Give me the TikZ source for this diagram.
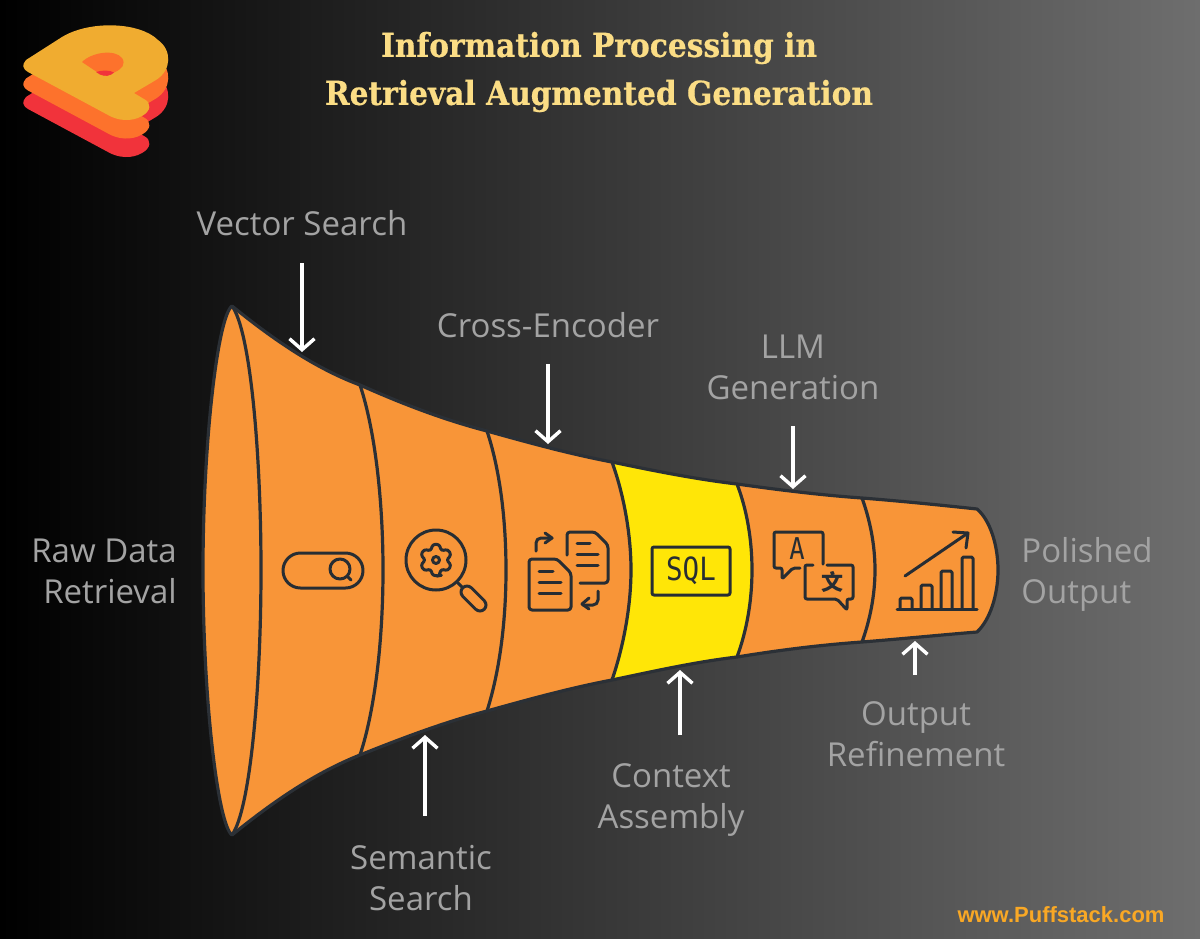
\documentclass[tikz,border=0pt]{standalone}
\usepackage{fontspec}
\setmainfont{Open Sans}
\newfontfamily\titlefont{DejaVu Serif Condensed}[BoldFeatures={FakeBold=0.5}]
\newfontfamily\markfont{Liberation Sans}
\newfontfamily\monof{DejaVu Sans Mono}
\newfontfamily\cjkf{Noto Sans CJK SC}
\usetikzlibrary{arrows.meta,calc}
\definecolor{funnel}{HTML}{F89538}
\definecolor{hilite}{HTML}{FFE607}
\definecolor{ink}{HTML}{272D33}
\definecolor{rim}{HTML}{2B3036}
\definecolor{labelgray}{HTML}{A3A3A3}
\definecolor{titlecol}{HTML}{FBDD85}
\definecolor{sitecol}{HTML}{F9A825}
\definecolor{logoa}{HTML}{F0AC30}
\definecolor{logob}{HTML}{FD722C}
\definecolor{logoc}{HTML}{F1333B}
\definecolor{bgright}{HTML}{6E6E6E}
\tikzset{
 lbl/.style={font=\fontsize{33}{41}\selectfont,text=labelgray,align=center,inner sep=0pt},
 wharrow/.style={draw=white,line width=3.4pt,-{Straight Barb[length=11pt,width=25pt,line width=3.4pt]}},
 ico/.style={draw=ink,line width=3pt,line cap=round,line join=round},
 edge/.style={draw=rim,line width=3.2pt},
}
\def\toprest{.. controls (280,345) and (320,370) .. (360,385) .. controls (405,405) and (445,420) .. (487,431) .. controls (530,443) and (570,454) .. (612,462) .. controls (655,471) and (695,479) .. (737,484) .. controls (780,490) and (820,495) .. (862,498) .. controls (900,501) and (940,505) .. (977,509)}
\def\capend{.. controls (990,520) and (998,545) .. (998,570) .. controls (998,595) and (990,620) .. (977,632)}
\def\botrest{.. controls (940,635) and (900,639) .. (862,642) .. controls (820,645) and (780,650) .. (737,657) .. controls (695,662) and (655,671) .. (612,680) .. controls (570,688) and (530,699) .. (487,711) .. controls (445,722) and (405,737) .. (360,755) .. controls (320,771) and (280,796) .. (232,835)}
\def\leftrest{.. controls (218,825) and (203,700) .. (203,570) .. controls (203,440) and (218,316) .. (232,306)}
\begin{document}
\begin{tikzpicture}[x=1pt,y=-1pt]
\useasboundingbox (0,0) rectangle (1200,938);
\shade[left color=black,right color=bgright] (0,0) rectangle (1200,938);
% logo
\def\logoshape{(26,60) .. controls (22,65) and (22,68) .. (28,72) -- (108,115) .. controls (118,121) and (132,122) .. (142,116) .. controls (151,111) and (152,103) .. (144,99) -- (134,93) -- (156,80) .. controls (172,70) and (172,50) .. (158,40) .. controls (140,22) and (90,20) .. (62,37) -- cycle}
\fill[logoc,yshift=-37pt] \logoshape;
\fill[logob,yshift=-18.5pt] \logoshape;
\fill[logoa] \logoshape;
\fill[logob] (82,62) .. controls (92,52) and (115,49) .. (122,58) .. controls (126,64) and (122,69) .. (115,72) .. controls (110,76) and (105,77) .. (100,74) -- cycle;
\fill[logoc] (96,72) .. controls (102,70) and (110,70) .. (114,72.5) .. controls (110,76) and (105,77) .. (100,74.5) -- cycle;
% funnel
\fill[funnel] (232,306) \toprest \capend \botrest \leftrest -- cycle;
\fill[hilite] (612,462) .. controls (655,471) and (695,479) .. (737,484) .. controls (747,510) and (752,540) .. (752,570) .. controls (752,600) and (747,630) .. (737,657) .. controls (695,662) and (655,671) .. (612,680) .. controls (624,645) and (631,605) .. (631,570) .. controls (631,535) and (624,495) .. (612,462) -- cycle;
\draw[edge,line join=round] (232,306) \toprest \capend \botrest \leftrest -- cycle;
\draw[edge] (232,306) .. controls (250,330) and (261,450) .. (261,570) .. controls (261,690) and (250,810) .. (232,835);
\draw[edge] (360,385) .. controls (375,430) and (383,500) .. (383,570) .. controls (383,640) and (375,710) .. (360,755);
\draw[edge] (487,431) .. controls (500,470) and (506,520) .. (506,570) .. controls (506,620) and (500,670) .. (487,711);
\draw[edge] (612,462) .. controls (624,495) and (631,535) .. (631,570) .. controls (631,605) and (624,645) .. (612,680);
\draw[edge] (737,484) .. controls (747,510) and (752,540) .. (752,570) .. controls (752,600) and (747,630) .. (737,657);
\draw[edge] (862,498) .. controls (870,520) and (875,545) .. (875,570) .. controls (875,595) and (870,620) .. (862,642);
% icon 1: search bar
\draw[ico,rounded corners=17.5pt] (283,553) rectangle (363,588);
\draw[ico] (340,569) circle (10);
\draw[ico] (347.5,576.5) -- (351,580);
% icon 2: magnifier + gear
\draw[ico] (436,560) circle (30);
\draw[ico] (436,560) circle (3.5);
\draw[ico,rounded corners=2.6pt,shift={(436,560)}] (80:16) \foreach \a in {90,150,210,270,330,30} { -- (\a-12:16) -- (\a+12:16) -- (\a+30:10.5) } -- cycle;
\draw[ico] (458,583) -- (463,588);
\draw[ink,line width=15pt,line cap=round] (467,592) -- (480,605);
\draw[funnel,line width=9pt,line cap=round] (467,592) -- (480,605);
% icon 3: documents
\draw[ico,rounded corners=3pt] (567,555) -- (567,532) -- (595,532) -- (608,545) -- (608,583) -- (580,583);
\draw[ico] (577,543) -- (590,543) (577,554) -- (598,554) (577,565) -- (598,565);
\draw[ico,rounded corners=3pt] (529,559) -- (557,559) -- (571,573) -- (571,610) -- (529,610) -- cycle;
\draw[ico] (539,571) -- (553,571) (539,582) -- (561,582) (539,593) -- (561,593);
\draw[ico,rounded corners=5pt] (536,551) -- (536,538) -- (552,538);
\draw[ico] (545,533) -- (552,538) -- (545,543);
\draw[ico,rounded corners=5pt] (598,591) -- (598,605) -- (583,605);
\draw[ico] (589,598) -- (582,604) -- (589,609);
% icon 4: SQL
\draw[ico,rounded corners=2pt] (652,547) rectangle (730,595);
\node[font=\monof\fontsize{32}{32}\selectfont,text=ink,inner sep=0pt] (sqlword) at (691,571) {\scalebox{.86}[1]{SQL}};
% icon 5: translate
\draw[ico,rounded corners=2pt] (823,564) -- (823,532) -- (774,532) -- (774,568) -- (782,568) -- (782,579) -- (793,568) -- (800,568);
\node[font=\monof\fontsize{30}{30}\selectfont,text=ink,inner sep=0pt] (letterA) at (797,549) {\scalebox{.85}[1]{A}};
\draw[ico,rounded corners=2pt] (813,565) -- (805,565) -- (805,599) -- (837,599) -- (847,610) -- (847,599) -- (853,599) -- (853,565) -- (827,565);
\node[font=\cjkf\bfseries\fontsize{22}{22}\selectfont,text=ink,inner sep=0pt] (letterW) at (832.5,582) {文};
% icon 6: chart
\draw[ico] (897,609) -- (977,609);
\draw[ico,rounded corners=1.5pt] (900,608) -- (900,598) -- (912,598) -- (912,608);
\draw[ico,rounded corners=1.5pt] (921,608) -- (921,585) -- (932,585) -- (932,608);
\draw[ico,rounded corners=1.5pt] (941,608) -- (941,571) -- (952,571) -- (952,608);
\draw[ico,rounded corners=1.5pt] (962,608) -- (962,557) -- (973,557) -- (973,608);
\draw[ico] (905,576) -- (968,533);
\draw[ico] (953,532) -- (968,533) -- (966,548);
% labels
\node[lbl] (vs) at (302,223) {Vector Search};
\node[lbl] (ce) at (548,325) {Cross-Encoder};
\node[lbl] (llm) at (793,367) {LLM\\Generation};
\node[lbl,align=right] (raw) at (104,571) {Raw Data\\\hspace*{12pt}Retrieval};
\node[lbl,align=left] (pol) at (1087,574) {Polished\\Output};
\node[lbl] (sem) at (421,878) {Semantic\\Search};
\node[lbl] (ctx) at (671,800) {Context\\Assembly};
\node[lbl] (outr) at (916,734) {Output\\Refinement};
% arrows
\coordinate (vsE) at (302,352);
\coordinate (ceE) at (548,444);
\coordinate (llmE) at (793,489);
\coordinate (semE) at (425,735);
\coordinate (ctxE) at (680,670);
\coordinate (outE) at (915,641);
\draw[wharrow] (302,263) -- (vsE);
\draw[wharrow] (548,364) -- (ceE);
\draw[wharrow] (793,426) -- (llmE);
\draw[wharrow] (425,816) -- (semE);
\draw[wharrow] (680,735) -- (ctxE);
\draw[wharrow] (915,675) -- (outE);
% title
\node[font=\titlefont\bfseries\fontsize{33}{48}\selectfont,text=titlecol,align=center,inner sep=0pt] (title) at (599,72) {Information Processing in\\Retrieval Augmented Generation};
\node[font=\markfont\bfseries\fontsize{22}{22}\selectfont,text=sitecol,inner sep=0pt] (site) at (1061,915) {www.Puffstack.com};
\end{tikzpicture}
\end{document}
